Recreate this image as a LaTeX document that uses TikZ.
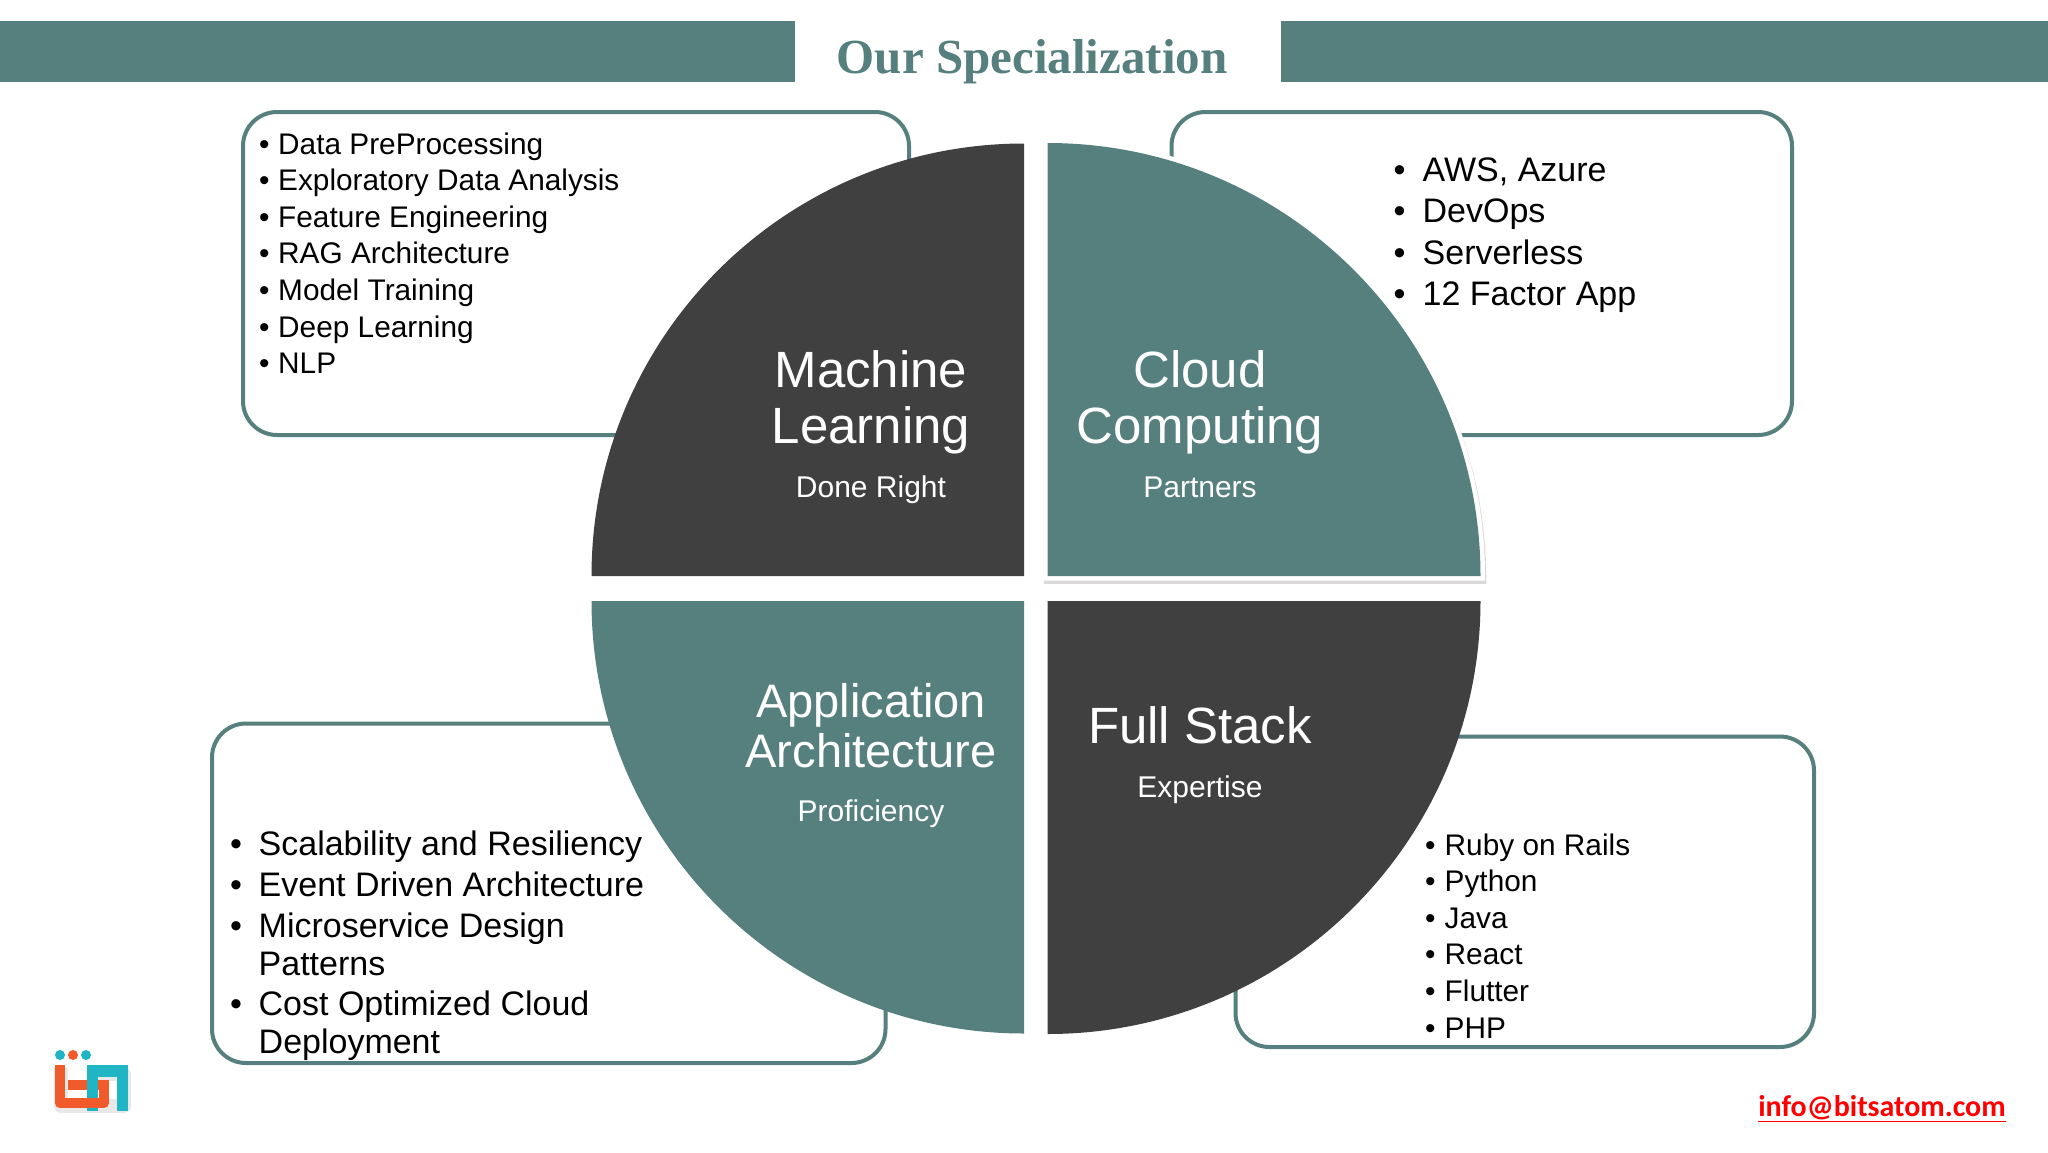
\documentclass[tikz,border=0pt]{standalone}
\usepackage{fontspec}
\setmainfont{Liberation Sans}
\newfontfamily\titlefont{Liberation Serif}
\newfontfamily\mailfont{Carlito}
\definecolor{teal1}{HTML}{55807D}
\definecolor{dark1}{HTML}{404040}
\definecolor{logoO}{HTML}{F15A2B}
\definecolor{logoC}{HTML}{1FB5C4}
\newcommand{\bitem}[2]{\makebox[#1pt][l]{\textbullet}#2}
\begin{document}
\begin{tikzpicture}[
    x=1pt, y=-1pt,
    box/.style={draw=teal1, line width=4pt, rounded corners=34pt},
    small/.style={anchor=base west, inner sep=0pt, font=\fontsize{29.8}{36}\selectfont},
    big/.style={anchor=base west, inner sep=0pt, font=\fontsize{34}{40}\selectfont},
    head/.style={anchor=base, inner sep=0pt, text=white, font=\fontsize{51}{56}\selectfont},
    head2/.style={head, font=\fontsize{47}{50}\selectfont},
    sub/.style={anchor=base, inner sep=0pt, text=white, font=\fontsize{30}{36}\selectfont},
]
\useasboundingbox (0,0) rectangle (2048,1152);
\fill[white] (0,0) rectangle (2048,1152);

% Header
\fill[teal1] (0,21) rectangle (795,82);
\fill[teal1] (1281,21) rectangle (2048,82);
\node[anchor=base, inner sep=0pt, text=teal1, font=\titlefont\bfseries\fontsize{49}{52}\selectfont] (title) at (1032,73) {Our Specialization};

% Outline boxes, the pie hides part of them
\draw[box] (243,112) rectangle (909,435);
\draw[box] (1171.5,112) rectangle (1792,435);
\draw[box] (212,723.5) rectangle (885.5,1063);
\draw[box] (1235.5,736.5) rectangle (1814,1047);

% Pie
\fill[dark1] (1024,576) -- (591.5,576) arc[start angle=180, end angle=90, radius=432.5pt] -- cycle;
\fill[teal1] (1024,601) -- (591.5,601) arc[start angle=180, end angle=270, radius=432.5pt] -- cycle;
\fill[dark1] (1047.5,601) -- (1480.5,601) arc[start angle=0, end angle=-90, radius=433pt] -- cycle;
% cloud quadrant has a rim and a shadow
\draw[gray!30, line width=9.5pt, line join=miter] (1048.5,579) -- (1048.5,146) arc[start angle=90, end angle=0, radius=433pt] -- cycle;
\draw[white, line width=9pt, line join=miter] (1047.5,576) -- (1047.5,143) arc[start angle=90, end angle=0, radius=433pt] -- cycle;
\fill[teal1] (1047.5,576) -- (1047.5,143) arc[start angle=90, end angle=0, radius=433pt] -- cycle;

% Pie labels
\node[head] (ml1) at (871,387) {Machine};
\node[head] (ml2) at (871,443) {Learning};
\node[sub] (ml3) at (871,497.5) {Done Right};
\node[head] (cc1) at (1200,387) {Cloud};
\node[head] (cc2) at (1200,443) {Computing};
\node[sub] (cc3) at (1200,497.5) {Partners};
\node[head2] (aa1) at (871,717) {Application};
\node[head2] (aa2) at (871,767) {Architecture};
\node[sub] (aa3) at (871,821) {Proficiency};
\node[head] (fs1) at (1200,743.5) {Full Stack};
\node[sub] (fs2) at (1200,797.5) {Expertise};

% Machine learning list
\node[small] (a1) at (259,154) {\bitem{19}{Data PreProcessing}};
\node[small] (a2) at (259,190.6) {\bitem{19}{Exploratory Data Analysis}};
\node[small] (a3) at (259,227.2) {\bitem{19}{Feature Engineering}};
\node[small] (a4) at (259,263.8) {\bitem{19}{RAG Architecture}};
\node[small] (a5) at (259,300.4) {\bitem{19}{Model Training}};
\node[small] (a6) at (259,337) {\bitem{19}{Deep Learning}};
\node[small] (a7) at (259,373.6) {\bitem{19}{NLP}};

% Cloud list
\node[big] (b1) at (1393.5,181.5) {\bitem{29}{AWS, Azure}};
\node[big] (b2) at (1393.5,222.9) {\bitem{29}{DevOps}};
\node[big] (b3) at (1393.5,264) {\bitem{29}{Serverless}};
\node[big] (b4) at (1393.5,305.7) {\bitem{29}{12 Factor App}};

% Architecture list
\node[big] (c1) at (230,855.5) {\bitem{28.5}{Scalability and Resiliency}};
\node[big] (c2) at (230,896) {\bitem{28.5}{Event Driven Architecture}};
\node[big] (c3) at (230,937) {\bitem{28.5}{Microservice Design}};
\node[big] (c4) at (258.5,975) {Patterns};
\node[big] (c5) at (230,1015.5) {\bitem{28.5}{Cost Optimized Cloud}};
\node[big] (c6) at (258.5,1053) {Deployment};

% Full stack list
\node[small] (d1) at (1425,855) {\bitem{19.5}{Ruby on Rails}};
\node[small] (d2) at (1425,891.6) {\bitem{19.5}{Python}};
\node[small] (d3) at (1425,928.2) {\bitem{19.5}{Java}};
\node[small] (d4) at (1425,964.8) {\bitem{19.5}{React}};
\node[small] (d5) at (1425,1001.4) {\bitem{19.5}{Flutter}};
\node[small] (d6) at (1425,1038) {\bitem{19.5}{PHP}};

% Mail
\node[anchor=base, inner sep=0pt, text=red, font=\mailfont\bfseries\fontsize{30}{36}\selectfont] (mail) at (1882,1116.5) {\underline{info@bitsatom.com}};

% Logo
\begin{scope}[line join=round]
\draw[gray!18, line width=14pt] (61,1068) -- (61,1106) -- (124,1106) -- (124,1074) -- (94,1074);
\fill[logoC] (60,1055) circle[radius=5pt];
\fill[logoO] (73,1055) circle[radius=5pt];
\fill[logoC] (86,1055) circle[radius=5pt];
\fill[logoO] (68,1080) rectangle (109,1090);
\draw[logoC, line width=11.5pt] (92.5,1111) -- (92.5,1071) -- (122.5,1071) -- (122.5,1111);
\fill[logoC] (87,1065) rectangle (128,1077);
\draw[logoO, line width=10.5pt] (60,1065) -- (60,1103) -- (104,1103) -- (104,1085);
\end{scope}
\end{tikzpicture}
\end{document}
